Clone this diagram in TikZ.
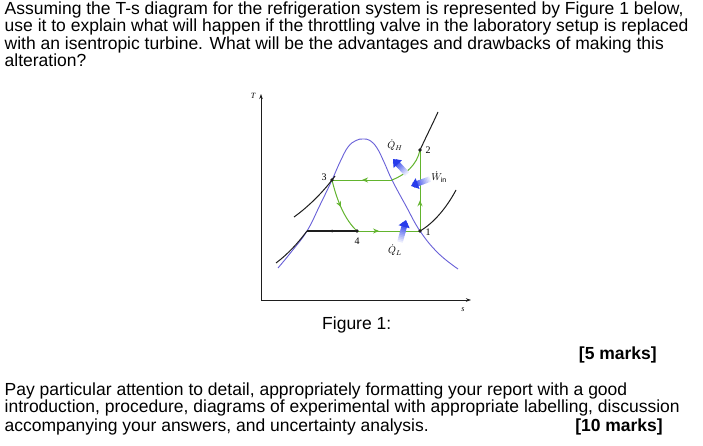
\documentclass[tikz,border=0pt]{standalone}
\usepackage{fontspec}
\setmainfont{Liberation Sans}
\newfontfamily\lblfont{Liberation Serif}
\usetikzlibrary{arrows.meta,calc,decorations.markings}
\definecolor{cgreen}{RGB}{98,180,46}
\definecolor{cdome}{RGB}{104,96,216}
\definecolor{heatblue}{RGB}{40,60,235}
\definecolor{cblack}{RGB}{30,30,30}
\newcommand\heatarr[2]{%
  \foreach \k in {0,...,10}{%
    \pgfmathsetmacro\cc{10+90*\k/10}%
    \draw[line width=5.5pt, draw=heatblue!\cc!white]
      ($(#1)!{\k/13}!(#2)$) -- ($(#1)!{(\k+1.3)/13}!(#2)$);
  }%
  \draw[line width=5.5pt, heatblue, -{Triangle[width=11pt,length=7pt]}]
    ($(#1)!0.78!(#2)$) -- (#2);
}
\begin{document}
\begin{tikzpicture}[x=1pt,y=1pt,
  txt/.style={font=\fontsize{17.5}{20}\selectfont, inner sep=0pt, anchor=base west},
  txtb/.style={font=\fontsize{17.5}{20}\selectfont\bfseries, inner sep=0pt, anchor=base east},
  lbl/.style={font=\lblfont\fontsize{10}{11}\selectfont, inner sep=0pt},
  axisline/.style={draw=cblack, line width=0.7pt, -{Stealth[length=5pt,width=3.5pt]}},
  blackcurve/.style={draw=cblack, line width=1pt},
  domecurve/.style={draw=cdome, line width=0.9pt},
  greenflow/.style={draw=cgreen, line width=1pt},
  midarrow/.style={postaction={decorate, decoration={markings,
      mark=at position #1 with {\arrow{Stealth[length=6pt,width=5pt]}}}}},
  dotpt/.style={circle, fill=cblack, inner sep=0pt, minimum size=3.8pt}
]
\useasboundingbox (0,0) rectangle (703,445);
\fill[white] (0,0) rectangle (703,445);

% question text
\node[txt] (q1) at (4.5,430.5) {Assuming the T-s diagram for the refrigeration system is represented by Figure 1 below,};
\node[txt] (q2) at (4.5,413) {use it to explain what will happen if the throttling valve in the laboratory setup is replaced};
\node[txt] (q3) at (4.5,395.5) {with an isentropic turbine. What will be the advantages and drawbacks of making this};
\node[txt] (q4) at (4.5,378) {alteration?};

% axes
\coordinate (O) at (261,145);
\coordinate (Ttop) at (261,351);
\coordinate (send) at (471,145);
\draw[axisline] (O) -- (Ttop);
\draw[axisline] (O) -- (send);
\node[lbl, font=\lblfont\itshape\fontsize{8}{9}\selectfont] (Tl) at (253,349) {T};
\node[lbl, font=\lblfont\itshape\fontsize{8}{9}\selectfont] (sl) at (463,135) {s};

% points
\coordinate (p1) at (420,214);
\coordinate (p2) at (420,295);
\coordinate (p3) at (332,265);
\coordinate (p4) at (357,214);
\coordinate (pl) at (307,214);
\coordinate (pm) at (332,214);
\coordinate (pv) at (392,265);

% dome
\draw[domecurve] plot[smooth, tension=0.7] coordinates {(278,177) (292,194) (307,214) (320,240) (332,265) (340,283) (348,298) (356,304.5) (363,306) (370,304.5) (377,297) (384,283) (392,265) (406,239) (420,214) (438,192) (458,176)};

% black curves
\draw[blackcurve] (p2) .. controls (427,310) and (433,322) .. (438,333);
\coordinate (e1) at (456,255);
\draw[blackcurve] (p1) .. controls (434,222) and (447,238) .. (e1);
\coordinate (lb) at (294,228);
\coordinate (lb2) at (335,269);
\draw[blackcurve] (lb) .. controls (308,238) and (322,252) .. (p3) -- (lb2);
\coordinate (ll) at (276,182);
\draw[blackcurve] (ll) .. controls (288,191) and (298,202) .. (pl);
\draw[blackcurve, line width=1.1pt] (pl) -- (p4);

% green cycle
\draw[greenflow, midarrow=0.35] (p4) -- (p1);
\draw[greenflow, midarrow=0.38] (p1) -- (p2);
\draw[greenflow] (p2) .. controls (417,280) and (405,270) .. (pv);
\draw[greenflow, midarrow=0.5] (pv) -- (p3);
\draw[greenflow, midarrow=0.5] (p3) .. controls (337,244) and (345,225) .. (p4);

% dots
\node[dotpt] (d1) at (p1) {};
\node[dotpt] (d2) at (p2) {};
\node[dotpt] (d3) at (p3) {};
\node[dotpt] (d4) at (p4) {};
\node[dotpt, minimum size=3pt] (dm) at (pm) {};

% heat arrows
\coordinate (qht) at (407,271);
\coordinate (qhh) at (393,286);
\heatarr{qht}{qhh}
\coordinate (wt) at (430,266);
\coordinate (wh) at (411,259);
\heatarr{wt}{wh}
\coordinate (qlt) at (400,203);
\coordinate (qlh) at (406,225);
\heatarr{qlt}{qlh}

% labels
\node[lbl] (l1) at (428,213) {1};
\node[lbl] (l2) at (428,295) {2};
\node[lbl] (l3) at (324,268) {3};
\node[lbl] (l4) at (357,204) {4};
\node[lbl] (lqh) at (395,300) {$\dot{Q}_H$};
\node[lbl] (lw) at (439,268) {$\dot{W}_{\mathrm{in}}$};
\node[lbl] (lql) at (395,195) {$\dot{Q}_L$};

% caption and marks
\node[txt] (fig) at (322,116) {Figure 1:};
\node[txtb] (m5) at (657,86) {[5 marks]};

\node[txt] (r1) at (4.5,50) {Pay particular attention to detail, appropriately formatting your report with a good};
\node[txt] (r2) at (4.5,32.5) {introduction, procedure, diagrams of experimental with appropriate labelling, discussion};
\node[txt] (r3) at (4.5,14) {accompanying your answers, and uncertainty analysis.};
\node[txtb] (m10) at (663,14) {[10 marks]};
\end{tikzpicture}
\end{document}
